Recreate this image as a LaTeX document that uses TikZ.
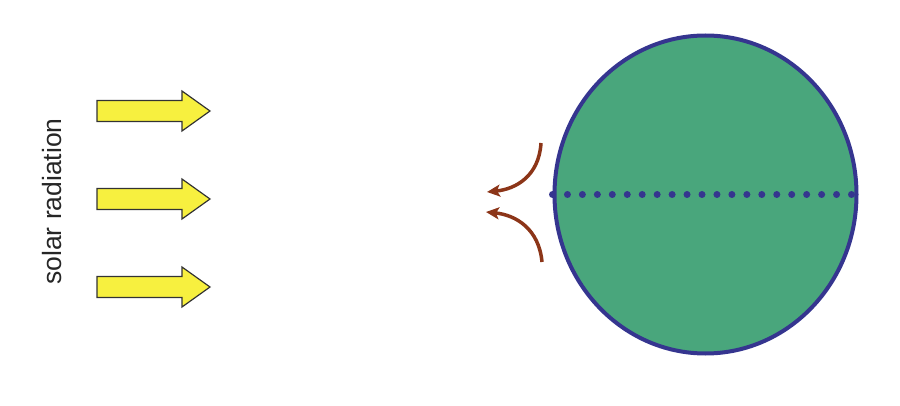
\documentclass[tikz,border=0pt]{standalone}
\usepackage{fontspec}
\setmainfont{Liberation Sans}
\usetikzlibrary{positioning, arrows.meta, shapes.geometric}
\definecolor{sungold}{HTML}{F7F03F}
\definecolor{earthgreen}{HTML}{49A67C}
\definecolor{rimblue}{HTML}{35358F}
\definecolor{heatred}{HTML}{8C3518}
\tikzset{
  ray1/.style = {
    draw = black!80, line width = 1.2pt, fill = sungold, line join = miter,
  }
}
\tikzset{
  globe1/.style = {
    shape = ellipse,
    draw = rimblue,
    fill = earthgreen,
    line width = 4pt,
    minimum width = 302pt,
    minimum height = 318pt,
    inner sep = 0pt,
  }
}
\tikzset{
  arrow1/.style = {
    draw = heatred, line width = 3.5pt, -{Stealth[length = 13pt, width = 12pt, inset = 3pt]},
  }
}

\begin{document}
\begin{tikzpicture}[x = 1pt, y = -1pt]
            \useasboundingbox (0,0) rectangle (900,406);
            \node[rotate = 90, text = black!85, inner sep = 0pt, font = \fontsize{26.5}{30}\selectfont](label) at (52.5,201.5){solar radiation};
            % sun rays
            \foreach \y in {111, 199, 287}
              \draw[ray1] (97,\y-10.5) -- (182,\y-10.5) -- (182,\y-20) -- (210,\y)
                -- (182,\y+20) -- (182,\y+10.5) -- (97,\y+10.5) -- cycle;
            \node[globe1](globe) at (705.5,194.5){};
            \draw[draw = rimblue, line width = 7pt, line cap = round, dash pattern = on 0pt off 14.95pt]
              (globe.west) -- ([xshift = -6pt]globe.east);
            \coordinate (up1) at (541,143);
            \coordinate (up2) at (487,192);
            \coordinate (lo1) at (542,262);
            \coordinate (lo2) at (486,212);
            \draw[arrow1](up1) .. controls (539,176) and (516,189) .. (up2);
            \draw[arrow1](lo1) .. controls (539,229) and (516,215) .. (lo2);
        \end{tikzpicture}
\end{document}
